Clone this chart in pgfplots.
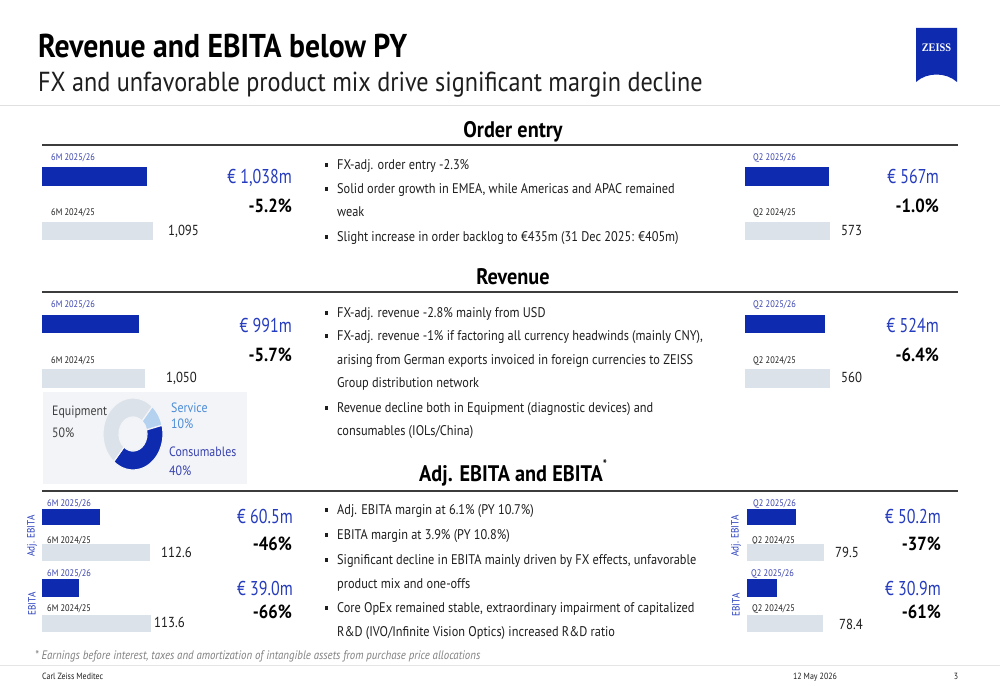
\documentclass[border=0pt]{standalone}
\usepackage{pgfplots}
\pgfplotsset{compat=1.18}
\usepackage{fontspec}
\setmainfont{PT Sans}[FakeStretch=0.88]
\newfontfamily\hfont{PT Sans}[FakeStretch=0.9]
\newfontfamily\vfont{PT Sans}[FakeStretch=0.8]
\newfontfamily\zfont{Liberation Serif}[FakeStretch=0.9]
\definecolor{zblue}{RGB}{14,43,176}
\definecolor{zgrey}{RGB}{220,226,233}
\definecolor{vblue}{RGB}{38,60,190}
\definecolor{lblue}{RGB}{55,65,175}
\definecolor{sblue}{RGB}{180,210,240}
\definecolor{stext}{RGB}{75,140,215}
\definecolor{boxbg}{RGB}{242,244,248}
\definecolor{txt}{RGB}{30,30,30}
\definecolor{rulec}{RGB}{60,60,60}
\newcommand\fs[1]{\fontsize{#1}{#1}\selectfont}
\pgfplotsset{pairs/.style={xbar, hide axis, scale only axis, xmin=0, ymin=0,
  y dir=reverse, anchor=north west, bar shift=0pt, clip=false}}
\newcommand\bul[2]{%
  \fill[txt] (324.5,#1-6) rectangle ++(3.5,3.5);
  \node[anchor=base west, inner sep=0, font=\fs{14}, text=txt] at (337,#1) {#2};}
\newcommand\cont[2]{\node[anchor=base west, inner sep=0, font=\fs{14}, text=txt] at (337,#1) {#2};}
\newcommand\lab[4]{\node[anchor=base west, inner sep=0, font=\fs{9.5}, text=#4] at (#1,#2) {#3};}
\newcommand\num[3]{\node[anchor=base west, inner sep=0, font=\fs{14.5}, text=txt] at (#1,#2) {#3};}
\newcommand\val[3]{\node[anchor=base east, inner sep=0, font=\vfont\fs{20}, text=vblue] at (#1,#2) {#3};}
\newcommand\pct[3]{\node[anchor=base east, inner sep=0, font=\bfseries\fs{19}, text=black] at (#1,#2) {#3};}
\newcommand\rot[3]{\node[rotate=90, inner sep=0, font=\fs{10.5}, text=vblue] at (#1,#2) {#3};}
\begin{document}
\begin{tikzpicture}
\path[use as bounding box, fill=white] (0,0) rectangle (1000pt,-685pt);
\begin{scope}[x=1pt,y=-1pt]
% title
\node[anchor=base west, inner sep=0, font=\hfont\bfseries\fs{33}] at (38,58) {Revenue and EBITA below PY};
\node[anchor=base west, inner sep=0, font=\fs{27.5}, text=txt] at (38,91) {FX and unfavorable product mix drive significant margin decline};
% logo
\fill[zblue] (916,28) -- (957,28) -- (957,82) .. controls (946,72) and (927,72) .. (916,82) -- cycle;
\node[font=\zfont\bfseries\fs{11.5}, text=white, inner sep=0] at (936.5,48) {ZEISS};
\draw[black!12, line width=0.8] (0,105) -- (1000,105);
% section headers
\node[anchor=base, inner sep=0, font=\hfont\bfseries\fs{22.5}] at (513,137) {Order entry};
\draw[rulec, line width=1.6] (42,145) -- (958,145);
\node[anchor=base, inner sep=0, font=\hfont\bfseries\fs{22.5}] at (513,284) {Revenue};
\draw[rulec, line width=1.6] (42,292) -- (958,292);
\node[anchor=base, inner sep=0, font=\hfont\bfseries\fs{22.5}] at (513,481) {Adj. EBITA and EBITA\raisebox{1.1ex}{\fs{12}*}};
\draw[rulec, line width=1.6] (42,491) -- (958,491);
% bullets
\bul{169}{FX-adj. order entry -2.3\%}
\bul{193}{Solid order growth in EMEA, while Americas and APAC remained}
\cont{216}{weak}
\bul{241}{Slight increase in order backlog to €435m (31 Dec 2025: €405m)}
\bul{317}{FX-adj. revenue -2.8\% mainly from USD}
\bul{340}{FX-adj. revenue -1\% if factoring all currency headwinds (mainly CNY),}
\cont{364}{arising from German exports invoiced in foreign currencies to ZEISS}
\cont{387}{Group distribution network}
\bul{412}{Revenue decline both in Equipment (diagnostic devices) and}
\cont{435}{consumables (IOLs/China)}
\bul{514}{Adj. EBITA margin at 6.1\% (PY 10.7\%)}
\bul{539}{EBITA margin at 3.9\% (PY 10.8\%)}
\bul{564}{Significant decline in EBITA mainly driven by FX effects, unfavorable}
\cont{588}{product mix and one-offs}
\bul{612}{Core OpEx remained stable, extraordinary impairment of capitalized}
\cont{636}{R\&D (IVO/Infinite Vision Optics) increased R\&D ratio}
% order entry labels
\lab{51}{160}{6M 2025/26}{lblue}
\lab{51}{215}{6M 2024/25}{txt}
\num{168}{235.5}{1,095}
\val{292}{183}{€ 1,038m}
\pct{292}{212}{-5.2\%}
\lab{753}{160}{Q2 2025/26}{lblue}
\lab{753}{215}{Q2 2024/25}{txt}
\num{841}{235.5}{573}
\val{939}{183}{€ 567m}
\pct{939}{212}{-1.0\%}
% revenue labels
\lab{51}{307}{6M 2025/26}{lblue}
\lab{51}{363}{6M 2024/25}{txt}
\num{166}{382}{1,050}
\val{292}{332}{€ 991m}
\pct{292}{361}{-5.7\%}
\lab{753}{307}{Q2 2025/26}{lblue}
\lab{753}{363}{Q2 2024/25}{txt}
\num{841}{382}{560}
\val{939}{332}{€ 524m}
\pct{939}{361}{-6.4\%}
% EBITA labels
\lab{47}{506}{6M 2025/26}{lblue}
\lab{47}{543}{6M 2024/25}{txt}
\num{161}{557}{112.6}
\val{293}{523}{€ 60.5m}
\pct{292}{550}{-46\%}
\lab{47}{576}{6M 2025/26}{lblue}
\lab{47}{611}{6M 2024/25}{txt}
\num{154}{627}{113.6}
\val{293}{595}{€ 39.0m}
\pct{292}{618}{-66\%}
\rot{32}{536}{Adj. EBITA}
\rot{32}{604}{EBITA}
\lab{753}{506}{Q2 2025/26}{lblue}
\lab{752}{543}{Q2 2024/25}{txt}
\num{835}{557}{79.5}
\val{941}{523}{€ 50.2m}
\pct{941}{550}{-37\%}
\lab{751}{576}{Q2 2025/26}{lblue}
\lab{752}{611}{Q2 2024/25}{txt}
\num{839}{629}{78.4}
\val{941}{595}{€ 30.9m}
\pct{941}{618}{-61\%}
\rot{736}{536}{Adj. EBITA}
\rot{736}{605}{EBITA}
% pie box
\fill[boxbg] (43,392) rectangle (247,484);
\node[anchor=base west, inner sep=0, font=\fs{13.5}, text=black!75] at (52,415) {Equipment};
\node[anchor=base west, inner sep=0, font=\fs{13.5}, text=black!75] at (52,437) {50\%};
\node[anchor=base west, inner sep=0, font=\fs{13.5}, text=stext] at (171,412) {Service};
\node[anchor=base west, inner sep=0, font=\fs{13.5}, text=stext] at (171,428) {10\%};
\node[anchor=base west, inner sep=0, font=\fs{13.5}, text=lblue] at (169,456) {Consumables};
\node[anchor=base west, inner sep=0, font=\fs{13.5}, text=lblue] at (169,475) {40\%};
% footer
\node[anchor=base west, inner sep=0, font=\itshape\fs{12.3}, text=black!50] at (35,659) {* Earnings before interest, taxes and amortization of intangible assets from purchase price allocations};
\draw[black!10, line width=0.8] (0,665) -- (1000,665);
\node[anchor=base west, inner sep=0, font=\fs{9}, text=txt] at (42,679) {Carl Zeiss Meditec};
\node[anchor=base, inner sep=0, font=\fs{9}, text=txt] at (815,679) {12 May 2026};
\node[anchor=base, inner sep=0, font=\fs{9}, text=txt] at (956,679) {3};
\end{scope}
% bars
\begin{axis}[pairs, at={(42pt,-150pt)}, width=111pt, height=100pt, xmax=1095, ymax=100]
\addplot[fill=zblue, draw=none, bar width=19pt] coordinates {(1038,26.5)};
\addplot[fill=zgrey, draw=none, bar width=18pt] coordinates {(1095,81)};
\end{axis}
\begin{axis}[pairs, at={(745pt,-150pt)}, width=85pt, height=100pt, xmax=573, ymax=100]
\addplot[fill=zblue, draw=none, bar width=19pt] coordinates {(567,26.5)};
\addplot[fill=zgrey, draw=none, bar width=18pt] coordinates {(573,81)};
\end{axis}
\begin{axis}[pairs, at={(42pt,-300pt)}, width=103pt, height=100pt, xmax=1050, ymax=100]
\addplot[fill=zblue, draw=none, bar width=18pt] coordinates {(991,24)};
\addplot[fill=zgrey, draw=none, bar width=19pt] coordinates {(1050,78.5)};
\end{axis}
\begin{axis}[pairs, at={(745pt,-300pt)}, width=85pt, height=100pt, xmax=560, ymax=100]
\addplot[fill=zblue, draw=none, bar width=18pt] coordinates {(524,24)};
\addplot[fill=zgrey, draw=none, bar width=19pt] coordinates {(560,78.5)};
\end{axis}
\begin{axis}[pairs, at={(42pt,-500pt)}, width=109pt, height=140pt, xmax=113.6, ymax=140]
\addplot[fill=zblue, draw=none, bar width=16pt] coordinates {(60.5,17)};
\addplot[fill=zgrey, draw=none, bar width=17pt] coordinates {(112.6,52.5)};
\addplot[fill=zblue, draw=none, bar width=18pt] coordinates {(39.0,88)};
\addplot[fill=zgrey, draw=none, bar width=17pt] coordinates {(113.6,123.5)};
\end{axis}
\begin{axis}[pairs, at={(747pt,-500pt)}, width=77pt, height=140pt, xmax=79.5, ymax=140]
\addplot[fill=zblue, draw=none, bar width=16pt] coordinates {(50.2,17)};
\addplot[fill=zgrey, draw=none, bar width=17pt] coordinates {(79.5,52.5)};
\addplot[fill=zblue, draw=none, bar width=18pt] coordinates {(30.9,87.5)};
\addplot[fill=zgrey, draw=none, bar width=17pt] coordinates {(78.4,123.5)};
\end{axis}
% donut: Equipment 50, Service 10, Consumables 40 (percent)
\begin{axis}[hide axis, scale only axis, at={(103pt,-398pt)}, anchor=north west,
  width=60pt, height=72pt, xmin=-1, xmax=1, ymin=-1, ymax=1, clip=false]
\pgfmathsetmacro\aS{50}
\pgfmathsetmacro\aC{\aS-10*3.6}
\pgfmathsetmacro\aE{\aC-40*3.6}
\pgfmathsetmacro\aF{\aE-50*3.6}
\foreach \st/\en/\co in {\aS/\aC/sblue, \aC/\aE/zblue, \aE/\aF/zgrey}{
  \edef\tmp{\noexpand\filldraw[fill=\co, draw=boxbg, line width=1.2pt]
   ([shift={(\st:30pt and 36pt)}]axis cs:0,0) arc[start angle=\st, end angle=\en, x radius=30pt, y radius=36pt]
   -- ([shift={(\en:14pt and 17pt)}]axis cs:0,0) arc[start angle=\en, end angle=\st, x radius=14pt, y radius=17pt] -- cycle;}
  \tmp
}
\end{axis}
\end{tikzpicture}
\end{document}
